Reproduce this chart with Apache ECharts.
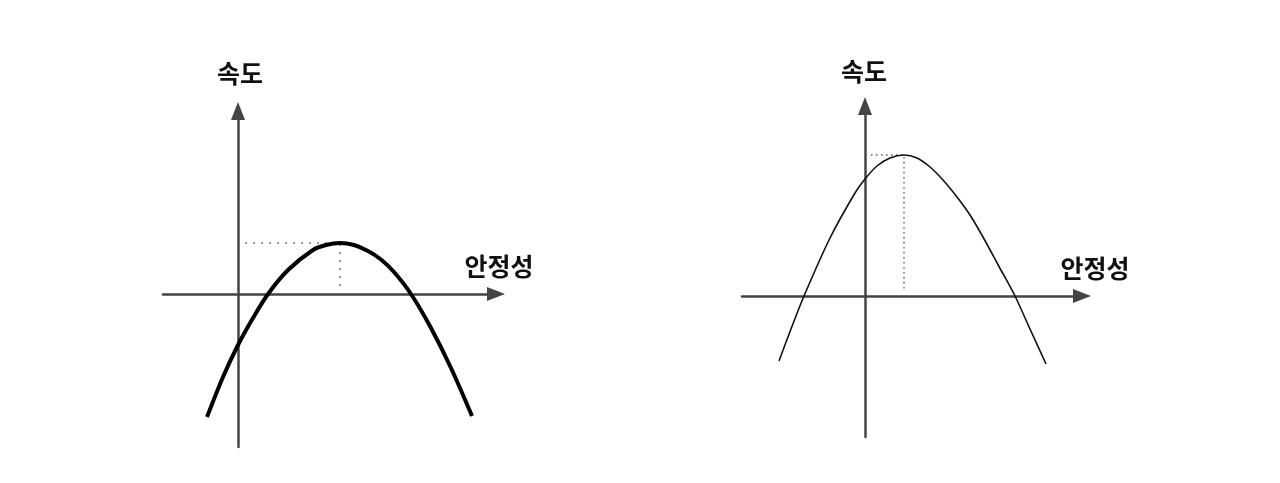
<!DOCTYPE html>
<html>
<head>
<meta charset="utf-8">
<script src="https://cdn.jsdelivr.net/npm/echarts@6/dist/echarts.min.js"></script>
<style>
  html, body { margin: 0; padding: 0; background: #ffffff; }
  #chart { width: 1280px; height: 483px; }
</style>
</head>
<body>
<div id="chart"></div>
<script>
var myChart = echarts.init(document.getElementById('chart'));

// axis titles
var yName = '속도';
var xName = '안정성';

// left panel: curve (x = 안정성, y = 속도)
var leftCurve = [
	[-3.1, -12.3], [-1.5, -8.3], [0, -5.1], [1.5, -2.4], [3.0, 0],
	[5.0, 2.4], [7.5, 4.4], [8.8, 4.9], [10.2, 5.1], [11.6, 4.9],
	[13.0, 4.3], [14.3, 3.45], [15.6, 2.2], [17.3, 0], [19.3, -3.4],
	[21.3, -7.4], [23.4, -12.2]
];
var leftPeak = [10.2, 5.1];
var leftGuideStart = 0.7;

// right panel
var rightCurve = [
	[-8.6, -6.5], [-7.4, -3.3], [-6.1, 0], [-3.5, 5.8], [-1.0, 10.3],
	[0, 11.7], [1.2, 13.0], [2.5, 13.8], [3.9, 14.1], [5.2, 13.8],
	[6.5, 12.9], [7.8, 11.6], [9.2, 9.9], [10.5, 8.1], [11.8, 5.9],
	[13.4, 2.95], [15.0, 0], [16.5, -3.3], [18.1, -6.8]
];
var rightPeak = [3.9, 14.1];
var rightGuideStart = 0.6;

// axis extents for each panel
var leftX = [-7.5, 25.8];
var leftY = [-15.3, 18.3];
var rightX = [-12.3, 21.7];
var rightY = [-14.1, 19.0];

var axisColor = '#444444';

function makeAxis(range, idx) {
	return {
		type: 'value',
		gridIndex: idx,
		min: range[0],
		max: range[1],
		axisLine: {
			show: true,
			onZero: true,
			symbol: ['none', 'triangle'],
			symbolSize: [14, 18],
			lineStyle: { color: axisColor, width: 2.5 }
		},
		axisTick: { show: false },
		axisLabel: { show: false },
		splitLine: { show: false }
	};
}

function guide(peak, start) {
	return [[start, peak[1]], [peak[0], peak[1]], [peak[0], 0.5]];
}

var labelFont = 'bold 25px "Noto Sans CJK KR"';

var option = {
	backgroundColor: '#ffffff',
	animation: false,
	grid: [
		{ left: 163, top: 111, width: 333, height: 336 },
		{ left: 742, top: 106, width: 340, height: 331 }
	],
	xAxis: [makeAxis(leftX, 0), makeAxis(rightX, 1)],
	yAxis: [makeAxis(leftY, 0), makeAxis(rightY, 1)],
	graphic: [
		{ type: 'text', x: 240, y: 73, style: { text: yName, font: labelFont, fill: '#111', align: 'center', verticalAlign: 'middle' } },
		{ type: 'text', x: 499, y: 266, style: { text: xName, font: labelFont, fill: '#111', align: 'center', verticalAlign: 'middle' } },
		{ type: 'text', x: 864, y: 71, style: { text: yName, font: labelFont, fill: '#111', align: 'center', verticalAlign: 'middle' } },
		{ type: 'text', x: 1095, y: 268, style: { text: xName, font: labelFont, fill: '#111', align: 'center', verticalAlign: 'middle' } }
	],
	series: [
		{
			type: 'line',
			xAxisIndex: 0, yAxisIndex: 0,
			data: guide(leftPeak, leftGuideStart),
			showSymbol: false,
			lineStyle: { color: '#777', width: 1.5, type: [2, 6] },
			z: 1
		},
		{
			type: 'line',
			xAxisIndex: 0, yAxisIndex: 0,
			data: leftCurve,
			smooth: 0.3,
			showSymbol: false,
			lineStyle: { color: '#000', width: 4 },
			z: 3
		},
		{
			type: 'line',
			xAxisIndex: 1, yAxisIndex: 1,
			data: guide(rightPeak, rightGuideStart),
			showSymbol: false,
			lineStyle: { color: '#555', width: 1.3, type: [1.5, 3.5] },
			z: 1
		},
		{
			type: 'line',
			xAxisIndex: 1, yAxisIndex: 1,
			data: rightCurve,
			smooth: 0.3,
			showSymbol: false,
			lineStyle: { color: '#111', width: 1.6 },
			z: 3
		}
	]
};

myChart.setOption(option);
</script>
</body>
</html>
